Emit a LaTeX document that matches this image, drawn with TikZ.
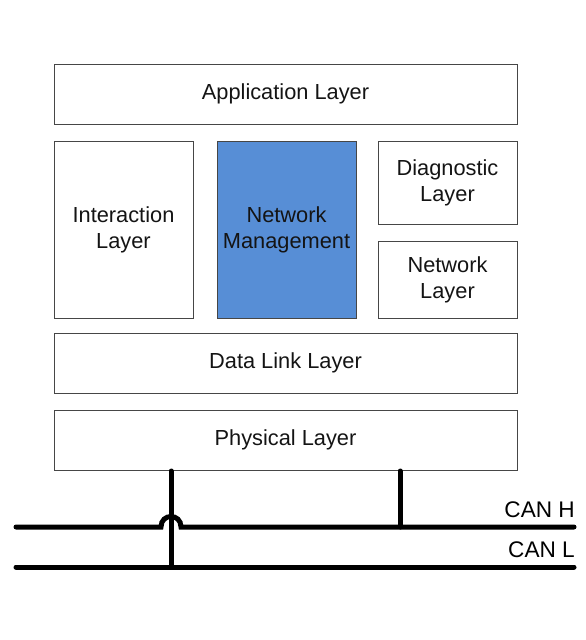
\documentclass[tikz,border=0pt]{standalone}
\usepackage{fontspec}
\setmainfont{Liberation Sans}
\definecolor{nmblue}{RGB}{87,142,214}
\definecolor{boxline}{RGB}{70,70,70}
\definecolor{txt}{RGB}{20,20,20}
\begin{document}
\begin{tikzpicture}[x=1pt,y=-1pt,
  layerbox/.style={draw=boxline,line width=0.9pt,inner sep=0pt,outer sep=0pt,
    text=txt,align=center,font=\fontsize{21.8}{26}\selectfont},
  bus/.style={line width=5pt,line cap=round,black},
  canlabel/.style={font=\fontsize{22.6}{26}\selectfont,text=black,anchor=east,inner sep=0pt}]
\useasboundingbox (0,0) rectangle (586,640);
\node[layerbox,minimum width=463pt,minimum height=60pt] (app) at (285.5,94) {Application Layer};
\node[layerbox,minimum width=139pt,minimum height=177pt] (inter) at (123.5,229.5) {Interaction\\Layer};
\node[layerbox,fill=nmblue,minimum width=139pt,minimum height=177pt] (nm) at (286.5,229.5) {Network\\Management};
\node[layerbox,minimum width=139pt,minimum height=83pt] (diag) at (447.5,182.5) {Diagnostic\\Layer};
\node[layerbox,minimum width=139pt,minimum height=77pt] (netl) at (447.5,279.5) {Network\\Layer};
\node[layerbox,minimum width=463pt,minimum height=60pt] (dll) at (285.5,363) {Data Link Layer};
\node[layerbox,minimum width=463pt,minimum height=60pt] (phys) at (285.5,440) {Physical Layer};
% bus coordinates
\coordinate (hL) at (16,527);
\coordinate (hR) at (574,527);
\coordinate (lL) at (16,567);
\coordinate (lR) at (574,567);
\coordinate (hopA) at (161,527);
\coordinate (hopB) at (181,527);
\coordinate (t1) at (171,471);
\coordinate (b1) at (171,567);
\coordinate (t2) at (400,471);
\coordinate (b2) at (400,527);
\draw[bus] (hL) -- (hopA) .. controls (161,513) and (181,513) .. (hopB) -- (hR);
\draw[bus] (lL) -- (lR);
\draw[bus] (t1) -- (b1);
\draw[bus] (t2) -- (b2);
\node[canlabel] (canh) at (575,510) {CAN H};
\node[canlabel] (canl) at (575,550) {CAN L};
\end{tikzpicture}
\end{document}
